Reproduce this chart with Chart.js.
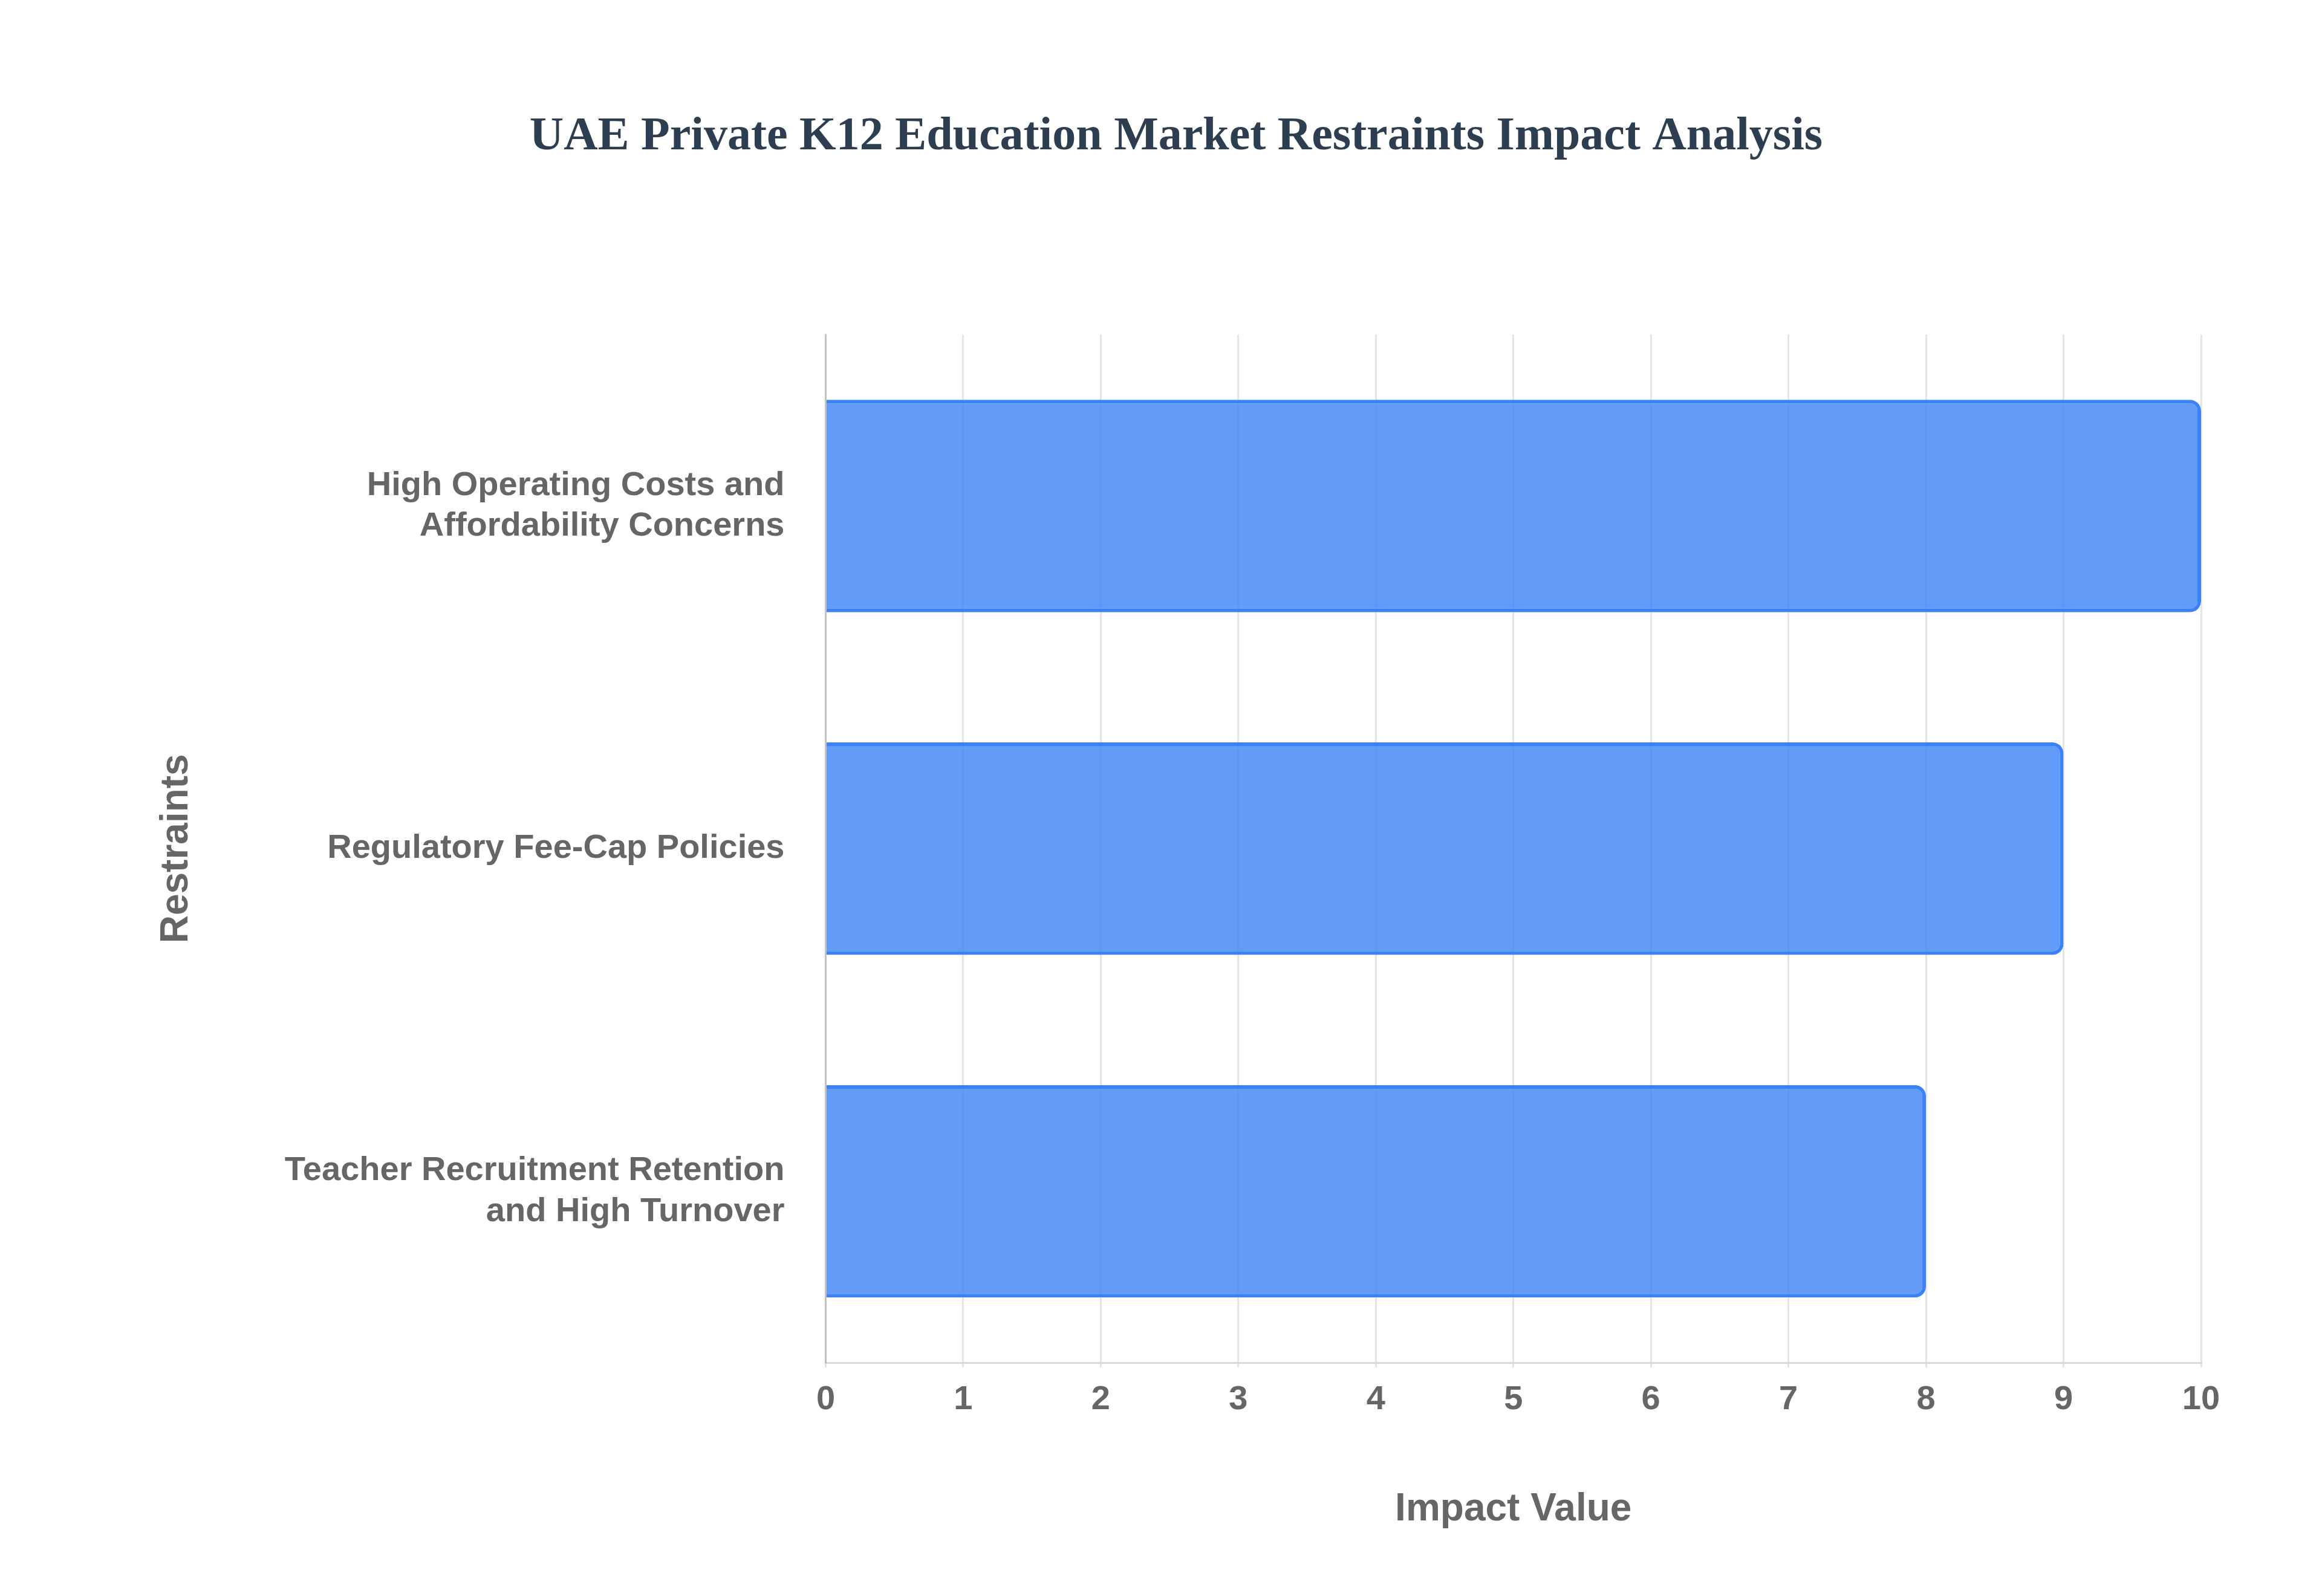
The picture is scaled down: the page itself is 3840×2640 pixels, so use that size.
<!DOCTYPE html>
<html>
<head>
<meta charset="utf-8">
<script src="https://cdn.jsdelivr.net/npm/chart.js@4/dist/chart.umd.min.js"></script>
<style>
  html, body { margin: 0; padding: 0; background: #fff; }
  #wrap { width: 3840px; height: 2640px; }
</style>
</head>
<body>
<div id="wrap"><canvas id="restraintsChart" width="3840" height="2640"></canvas></div>
<script>
const categories = [
    ['High Operating Costs and', 'Affordability Concerns'],
    'Regulatory Fee-Cap Policies',
    ['Teacher Recruitment Retention', 'and High Turnover']
];
const impactValues = [10, 9, 8];
const xTicks = [0, 1, 2, 3, 4, 5, 6, 7, 8, 9, 10];

const ctx = document.getElementById('restraintsChart').getContext('2d');
new Chart(ctx, {
    type: 'bar',
    data: {
        labels: categories,
        datasets: [{
            label: 'Impact Value',
            data: impactValues,
            backgroundColor: 'rgba(59, 130, 246, 0.8)',
            borderColor: 'rgb(59, 130, 246)',
            borderWidth: 6,
            borderRadius: 18,
            borderSkipped: 'start',
            barPercentage: 0.62,
            categoryPercentage: 1
        }]
    },
    options: {
        indexAxis: 'y',
        responsive: false,
        animation: false,
        devicePixelRatio: 1,
        layout: { padding: { left: 250, right: 200, top: 40, bottom: 100 } },
        plugins: {
            legend: { display: false },
            title: {
                display: true,
                text: 'UAE Private K12 Education Market Restraints Impact Analysis',
                color: '#2c3e50',
                font: { family: 'Liberation Serif', size: 78, weight: 'bold' },
                padding: { top: 140, bottom: 280 }
            }
        },
        scales: {
            x: {
                min: 0,
                max: 10,
                afterBuildTicks: axis => { axis.ticks = xTicks.map(v => ({ value: v })); },
                grid: { color: 'rgba(0,0,0,0.1)', lineWidth: 3 },
                border: { color: 'rgba(0,0,0,0.15)', width: 3 },
                ticks: {
                    color: '#666',
                    padding: 20,
                    font: { family: 'Liberation Sans', size: 56, weight: 'bold' }
                },
                title: {
                    display: true,
                    text: 'Impact Value',
                    color: '#666',
                    padding: { top: 90 },
                    font: { family: 'Liberation Sans', size: 64, weight: 'bold' }
                }
            },
            y: {
                grid: { display: false },
                border: { color: 'rgba(0,0,0,0.15)', width: 3 },
                ticks: {
                    color: '#666',
                    padding: 60,
                    font: { family: 'Liberation Sans', size: 56, weight: 'bold' }
                },
                title: {
                    display: true,
                    text: 'Restraints',
                    color: '#666',
                    padding: { bottom: 80 },
                    font: { family: 'Liberation Sans', size: 64, weight: 'bold' }
                }
            }
        }
    }
});
</script>
</body>
</html>
